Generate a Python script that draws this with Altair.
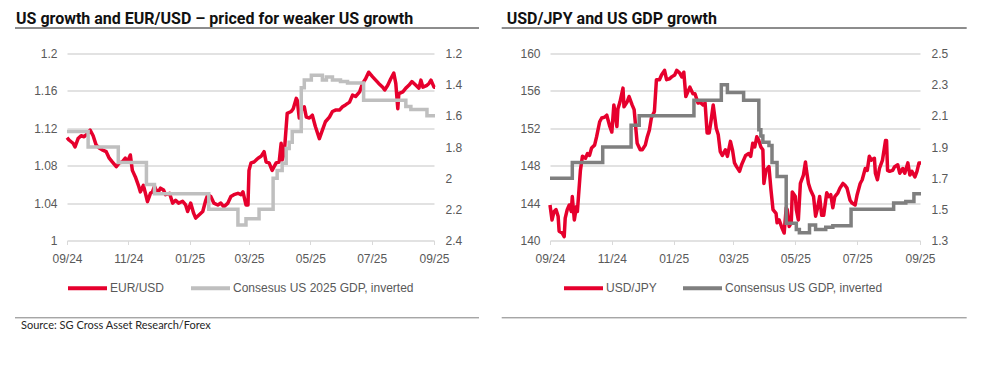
import altair as alt
import pandas as pd

BASE = pd.Timestamp("2024-09-01")

# ---- Left panel: EUR/USD (left axis) and consensus US 2025 GDP, inverted (right axis)
eur_days = [0, 2, 6, 8, 11, 14, 17, 20, 23, 26, 29, 32, 35, 39, 42, 45, 49, 52, 55, 58, 60, 63, 65, 68, 71,
            73, 76, 78, 80, 83, 85, 87, 90, 93, 96, 98, 102, 105, 108, 111, 115, 118, 120, 123, 126, 128,
            131, 135, 138, 140, 143, 146, 150, 153, 156, 160, 163, 166, 170, 173, 175, 178, 180, 181, 183,
            186, 190, 193, 196, 198, 201, 204, 208, 211, 213, 214, 216, 219, 223, 225, 228, 229, 231, 233,
            236, 238, 241, 244, 247, 251, 254, 257, 261, 264, 267, 271, 274, 277, 281, 284, 287, 291, 294,
            297, 300, 304, 307, 310, 314, 316, 319, 322, 325, 327, 329, 330, 334, 337, 340, 343, 347, 350,
            352, 354, 358, 360, 362, 365, 366]
eur_vals = [1.110, 1.1075, 1.104, 1.100, 1.109, 1.112, 1.111, 1.114, 1.118, 1.112, 1.102, 1.099, 1.097,
            1.095, 1.088, 1.084, 1.079, 1.083, 1.084, 1.088, 1.084, 1.0915, 1.075, 1.068, 1.059, 1.052,
            1.059, 1.0505, 1.0416, 1.0505, 1.052, 1.058, 1.0505, 1.056, 1.054, 1.049, 1.0505, 1.040, 1.043,
            1.040, 1.042, 1.038, 1.031, 1.040, 1.029, 1.024, 1.027, 1.031, 1.043, 1.049, 1.047, 1.040,
            1.038, 1.040, 1.036, 1.040, 1.047, 1.049, 1.0505, 1.049, 1.052, 1.038, 1.038, 1.075, 1.083,
            1.084, 1.088, 1.090, 1.095, 1.084, 1.083, 1.075, 1.083, 1.084, 1.104, 1.086, 1.093, 1.136,
            1.138, 1.141, 1.152, 1.150, 1.131, 1.1395, 1.143, 1.132, 1.131, 1.134, 1.122, 1.109, 1.118,
            1.127, 1.132, 1.138, 1.1395, 1.1395, 1.143, 1.145, 1.148, 1.1555, 1.154, 1.159, 1.168, 1.173,
            1.180, 1.175, 1.1715, 1.168, 1.164, 1.161, 1.166, 1.173, 1.179, 1.168, 1.141, 1.157, 1.159,
            1.163, 1.166, 1.170, 1.166, 1.163, 1.1715, 1.164, 1.166, 1.168, 1.1715, 1.164, 1.164]

gdp25_days = [0, 21, 51, 79, 87, 141, 170, 178, 191, 205, 209, 214, 218, 221, 224, 233, 236, 243, 254,
              258, 264, 272, 279, 295, 337, 342, 358, 366]
gdp25_vals = [1.70, 1.80, 1.90, 2.04, 2.10, 2.20, 2.30, 2.26, 2.20, 2.00, 1.95, 1.905, 1.81, 1.77, 1.70,
              1.42, 1.37, 1.34, 1.37, 1.35, 1.37, 1.38, 1.39, 1.50, 1.54, 1.56, 1.60, 1.60]

# ---- Right panel: USD/JPY (left axis) and consensus US GDP (right axis)
jpy_days = [0, 2, 4, 6, 8, 9, 12, 14, 15, 17, 19, 21, 22, 24, 26, 27, 30, 32, 35, 37, 39, 41, 44, 46, 49,
            51, 54, 56, 59, 61, 63, 64, 66, 67, 69, 72, 73, 76, 78, 81, 83, 85, 86, 89, 91, 94, 96, 98,
            100, 103, 105, 108, 110, 113, 115, 118, 120, 123, 125, 128, 130, 132, 134, 136, 138, 141, 143,
            146, 148, 151, 153, 155, 157, 159, 161, 164, 166, 168, 170, 173, 175, 178, 180, 182, 184, 187,
            189, 193, 196, 198, 200, 202, 204, 206, 208, 210, 211, 213, 216, 218, 220, 223, 224, 226, 229,
            231, 233, 234, 236, 238, 239, 242, 243, 245, 247, 250, 252, 253, 255, 257, 260, 262, 264, 266,
            268, 270, 273, 275, 277, 279, 281, 284, 286, 289, 291, 293, 296, 298, 301, 303, 306, 308, 311,
            313, 315, 317, 320, 321, 323, 325, 328, 331, 332, 333, 335, 338, 340, 343, 345, 348, 350, 353,
            355, 357, 360, 362, 364, 366]
jpy_vals = [143.8, 142.2, 143.1, 143.3, 142.6, 141.0, 140.8, 140.4, 142.4, 143.3, 143.8, 143.1, 144.7,
            142.2, 143.6, 143.1, 147.5, 149.0, 148.8, 149.3, 149.1, 149.9, 150.2, 151.1, 152.7, 153.1,
            153.2, 153.4, 152.2, 151.6, 154.5, 153.8, 152.2, 154.1, 154.8, 156.3, 154.3, 154.8, 155.4,
            154.5, 154.0, 151.6, 150.4, 149.7, 149.7, 150.2, 151.1, 151.8, 153.1, 153.8, 157.2, 157.2,
            157.7, 158.2, 157.2, 157.3, 157.5, 157.7, 158.2, 157.9, 157.5, 158.0, 155.4, 155.9, 156.4,
            155.7, 155.7, 154.7, 154.8, 154.5, 154.7, 151.5, 151.5, 152.9, 154.5, 152.0, 151.3, 149.5,
            149.1, 149.7, 149.0, 150.6, 149.7, 148.3, 147.9, 147.4, 148.1, 149.1, 149.3, 149.0, 150.4,
            150.0, 151.1, 150.7, 150.0, 149.7, 146.1, 147.5, 147.9, 145.4, 143.3, 142.9, 141.9, 142.2,
            141.3, 140.8, 143.5, 143.3, 141.5, 141.9, 145.2, 144.7, 143.3, 142.2, 146.1, 147.0, 148.4,
            147.5, 146.1, 145.4, 144.7, 142.6, 143.5, 144.7, 142.7, 142.7, 145.1, 144.7, 144.9, 143.5,
            144.7, 145.1, 145.6, 146.1, 145.9, 145.6, 144.3, 144.0, 143.8, 144.9, 146.1, 146.5, 147.7,
            147.5, 149.0, 148.6, 148.8, 147.2, 146.5, 147.7, 148.6, 150.7, 150.7, 147.5, 147.4, 147.5,
            147.9, 148.1, 147.2, 147.7, 147.2, 148.3, 147.0, 147.4, 146.8, 147.4, 148.3, 148.3]

gdp_days = [0, 22, 52, 80, 88, 142, 169, 175, 191, 206, 208, 210, 216, 219, 224, 233, 243, 246, 256, 262,
            272, 279, 297, 339, 351, 359, 366]
gdp_vals = [1.70, 1.80, 1.90, 2.04, 2.10, 2.20, 2.30, 2.25, 2.20, 2.01, 1.97, 1.93, 1.91, 1.80, 1.71,
            1.41, 1.37, 1.35, 1.40, 1.37, 1.385, 1.394, 1.50, 1.54, 1.55, 1.60, 1.60]

left_title = "US growth and EUR/USD \u2013 priced for weaker US growth"
right_title = "USD/JPY and US GDP growth"
source_text = "Source: SG Cross Asset Research/Forex"
eur_name = "EUR/USD"
gdp25_name = "Consesus US 2025 GDP, inverted"
jpy_name = "USD/JPY"
gdp_name = "Consensus US GDP, inverted"

eur_ticks = [1, 1.04, 1.08, 1.12, 1.16, 1.2]
gdp25_ticks = [1.2, 1.4, 1.6, 1.8, 2, 2.2, 2.4]
jpy_ticks = [140, 144, 148, 152, 156, 160]
gdp_ticks = [1.3, 1.5, 1.7, 1.9, 2.1, 2.3, 2.5]

RED = "#E6002D"
LIGHT_GREY = "#BFBFBF"
DARK_GREY = "#7F7F7F"
GRID = "#D9D9D9"
LABEL = "#595959"
AXIS_FONT = "Liberation Sans"


def dt(y, m):
    return alt.DateTime(year=y, month=m, date=1)


x_ticks = [dt(2024, 9), dt(2024, 11), dt(2025, 1), dt(2025, 3), dt(2025, 5), dt(2025, 7), dt(2025, 9)]


def frame(days, vals, name):
    return pd.DataFrame({
        "date": BASE + pd.to_timedelta(days, unit="D"),
        "value": vals,
        "series": name,
    })


def x_enc():
    return alt.X("date:T",
                 scale=alt.Scale(domain=[dt(2024, 9), dt(2025, 9)]),
                 axis=alt.Axis(values=x_ticks, format="%m/%y", title=None, grid=False, domain=False,
                               ticks=True, tickColor=GRID, tickSize=4, tickWidth=1, labelPadding=9,
                               labelFlush=False))


def color_enc(names, colors, lx, ly):
    return alt.Color("series:N",
                     scale=alt.Scale(domain=names, range=colors),
                     legend=alt.Legend(orient="none", legendX=lx, legendY=ly, direction="horizontal",
                                       title=None, symbolType="stroke", symbolSize=1521,
                                       symbolStrokeWidth=4, labelFontSize=12, labelColor=LABEL,
                                       labelFont=AXIS_FONT, labelOffset=1, columnPadding=18,
                                       labelLimit=400))


def panel(main_df, sec_df, names, colors, main_dom, main_ticks, sec_dom, sec_ticks, sec_reverse,
          width, title, rule_x1, rule_x2, title_x, lx, with_source):
    main = alt.Chart(main_df).mark_line(strokeWidth=3.5, strokeJoin="round").encode(
        x=x_enc(),
        y=alt.Y("value:Q", scale=alt.Scale(domain=main_dom, nice=False, zero=False),
                axis=alt.Axis(orient="left", values=main_ticks, format="~g", title=None, grid=True,
                              gridColor=GRID, gridWidth=1.5, domain=False, ticks=False, labelPadding=10)),
        color=color_enc(names, colors, lx, 213),
    )
    sec = alt.Chart(sec_df).mark_line(strokeWidth=3.5, interpolate="step-after").encode(
        x=x_enc(),
        y=alt.Y("value:Q", scale=alt.Scale(domain=sec_dom, nice=False, zero=False, reverse=sec_reverse),
                axis=alt.Axis(orient="right", values=sec_ticks, format="~g", title=None, grid=False,
                              domain=False, ticks=False, labelPadding=11)),
        color=color_enc(names, colors, lx, 213),
    )
    ttl = alt.Chart(pd.DataFrame({"t": [title]})).mark_text(
        align="left", baseline="alphabetic", font="Roboto", fontSize=16, fontWeight="bold", color="#111111"
    ).encode(x=alt.value(title_x), y=alt.value(-30), text="t:N")
    top_rule = alt.Chart(pd.DataFrame({"r": [0]})).mark_rule(color="#1A1A1A", strokeWidth=1).encode(
        x=alt.value(rule_x1), x2=alt.value(rule_x2), y=alt.value(-25.5))
    bot_rule = alt.Chart(pd.DataFrame({"r": [0]})).mark_rule(color="#808080", strokeWidth=1).encode(
        x=alt.value(rule_x1), x2=alt.value(rule_x2), y=alt.value(264.3))
    layers = [main, sec, ttl, top_rule, bot_rule]
    if with_source:
        src = alt.Chart(pd.DataFrame({"t": [source_text]})).mark_text(
            align="left", baseline="middle", font="Lato", fontSize=11, color="#262626"
        ).encode(x=alt.value(-46), y=alt.value(272.7), text="t:N")
        layers.append(src)
    return alt.layer(*layers).resolve_scale(y="independent").properties(width=width, height=187)


left = panel(frame(eur_days, eur_vals, eur_name), frame(gdp25_days, gdp25_vals, gdp25_name),
             [eur_name, gdp25_name], [RED, LIGHT_GREY], [1, 1.2], eur_ticks, [1.2, 2.4], gdp25_ticks, True,
             367, left_title, -52, 412, -51, -1, True)
right = panel(frame(jpy_days, jpy_vals, jpy_name), frame(gdp_days, gdp_vals, gdp_name),
              [jpy_name, gdp_name], [RED, DARK_GREY], [140, 160], jpy_ticks, [1.3, 2.5], gdp_ticks, False,
              370, right_title, -48.3, 416.7, -43.3, 12, False)

chart = alt.hconcat(left, right, spacing=21).resolve_scale(color="independent").properties(
    padding={"left": 6, "top": 2.5, "right": 0, "bottom": 0},
    background="white",
).configure_view(stroke=None).configure_axis(
    labelFont=AXIS_FONT, labelFontSize=12, labelColor=LABEL
)

chart.save("out.html", embed_options={"renderer": "svg", "actions": False})
